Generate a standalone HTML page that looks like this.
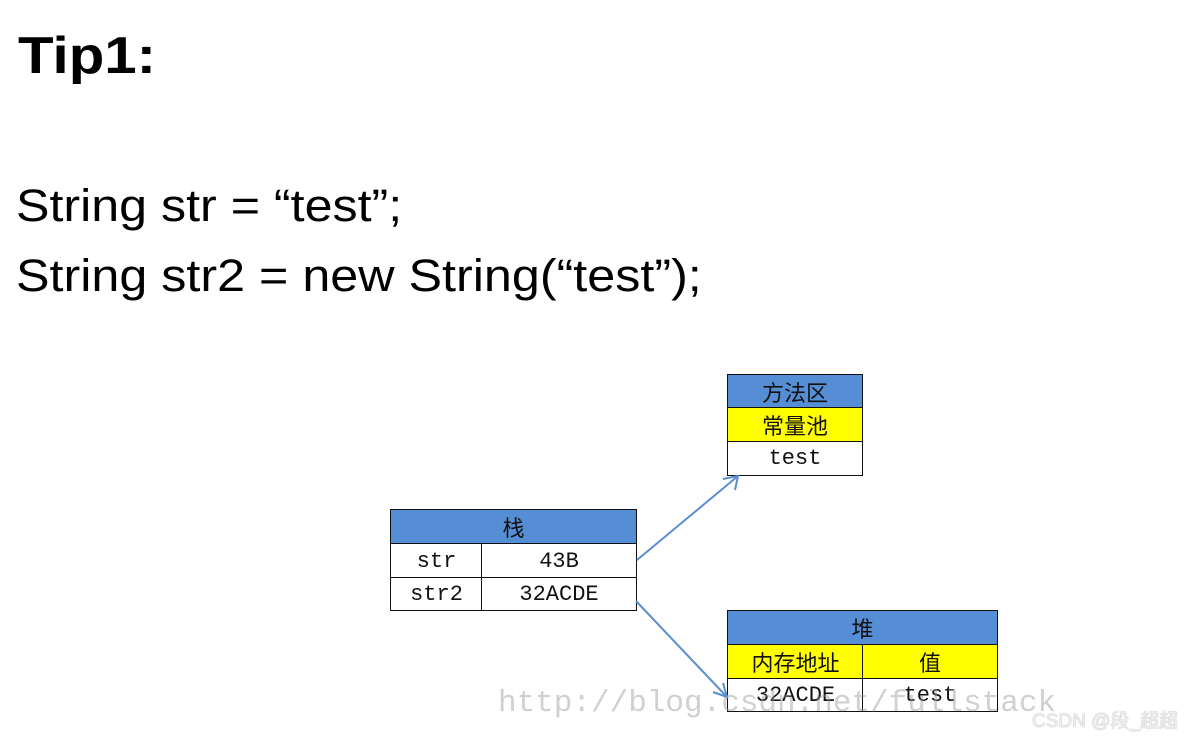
<!DOCTYPE html>
<html><head><meta charset="utf-8"><style>
body{margin:0;width:1198px;height:739px;background:#fff;position:relative;overflow:hidden;font-family:"Liberation Sans","Noto Sans CJK SC",sans-serif}
.t{position:absolute;white-space:nowrap;transform-origin:0 0}
.c{position:absolute;box-sizing:border-box;border:1.5px solid #111;display:flex;align-items:center;justify-content:center;font-family:"Liberation Mono","Noto Sans CJK SC",monospace;font-size:22px;color:#111}
.b{background:#558ed5}.y{background:#ffff00}.w{background:#fff}
</style></head><body>
<div class="t" style="left:18px;top:26px;font-size:52px;font-weight:bold;transform:scaleX(1.12)">Tip1:</div>
<div class="t" style="left:16px;top:180px;font-size:45px;transform:scaleX(1.115)">String str = “test”;</div>
<div class="t" style="left:16px;top:250px;font-size:45px;transform:scaleX(1.117)">String str2 = new String(“test”);</div>

<div class="c b" style="left:727px;top:374px;width:136px;height:35px;font-family:'Noto Sans CJK SC',sans-serif">方法区</div>
<div class="c y" style="left:727px;top:407px;width:136px;height:36px;font-family:'Noto Sans CJK SC',sans-serif">常量池</div>
<div class="c w" style="left:727px;top:441px;width:136px;height:35px">test</div>

<div class="c b" style="left:390px;top:509px;width:247px;height:36px;font-family:'Noto Sans CJK SC',sans-serif">栈</div>
<div class="c w" style="left:390px;top:543px;width:93px;height:36px">str</div>
<div class="c w" style="left:481px;top:543px;width:156px;height:36px">43B</div>
<div class="c w" style="left:390px;top:577px;width:93px;height:34px">str2</div>
<div class="c w" style="left:481px;top:577px;width:156px;height:34px">32ACDE</div>

<div class="c b" style="left:727px;top:610px;width:271px;height:36px;font-family:'Noto Sans CJK SC',sans-serif">堆</div>
<div class="c y" style="left:727px;top:644px;width:137px;height:36px;font-family:'Noto Sans CJK SC',sans-serif">内存地址</div>
<div class="c y" style="left:862px;top:644px;width:136px;height:36px;font-family:'Noto Sans CJK SC',sans-serif">值</div>
<div class="c w" style="left:727px;top:678px;width:137px;height:34px">32ACDE</div>
<div class="c w" style="left:862px;top:678px;width:136px;height:34px">test</div>

<svg style="position:absolute;left:0;top:0" width="1198" height="739">
<g stroke="#5a8ed0" stroke-width="2" fill="none">
<line x1="637" y1="560" x2="738" y2="476"/>
<polyline points="723,479 738,476 735,490"/>
<line x1="636" y1="601" x2="727" y2="697"/>
<polyline points="723,683 727,697 713,692"/>
</g></svg>
<div class="t" style="left:498px;top:686px;font-size:31px;font-family:'Liberation Mono',monospace;color:rgba(150,150,150,0.45)">http://blog.csdn.net/fullstack</div>
<div class="t" style="left:1032px;top:706px;font-size:19px;color:#eee;text-shadow:0 0 1px #888">CSDN @段_超超</div>
</body></html>
